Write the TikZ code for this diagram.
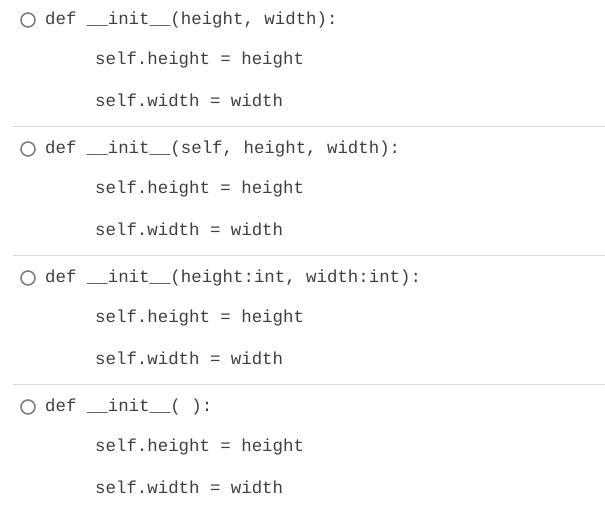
\documentclass[tikz,border=0pt]{standalone}
\usepackage{fontspec}
\setmonofont{Liberation Mono}
\begin{document}
\begin{tikzpicture}[x=1pt,y=-1pt,
  code/.style={anchor=west,inner sep=0,font=\ttfamily\fontsize{17.4}{19}\selectfont,text=black!75},
  radio/.style={circle,draw=black!50,line width=1.6pt,minimum size=14pt,inner sep=0},
  sep/.style={draw=black!15,line width=0.8pt}]
\useasboundingbox (0,0) rectangle (605,532);
\foreach \i/\txt in {0/{(height, width):},1/{(self, height, width):},2/{(height:int, width:int):},3/{( ):}}{
  \pgfmathsetmacro\y{20+129*\i}
  \node[radio] (r\i) at (28,\y) {};
  \node[code] (d\i) at (45,\y) {def \_\_init\_\_\txt};
  \node[code] (a\i) at (95,\y+40) {self.height = height};
  \node[code] (b\i) at (95,\y+80) {self.width = width};
}
\foreach \i in {0,1,2}{
  \pgfmathsetmacro\y{126+129*\i}
  \coordinate (s\i) at (13,\y); \coordinate (e\i) at (605,\y);
  \draw[sep] (s\i) -- (e\i);
}
\end{tikzpicture}
\end{document}
